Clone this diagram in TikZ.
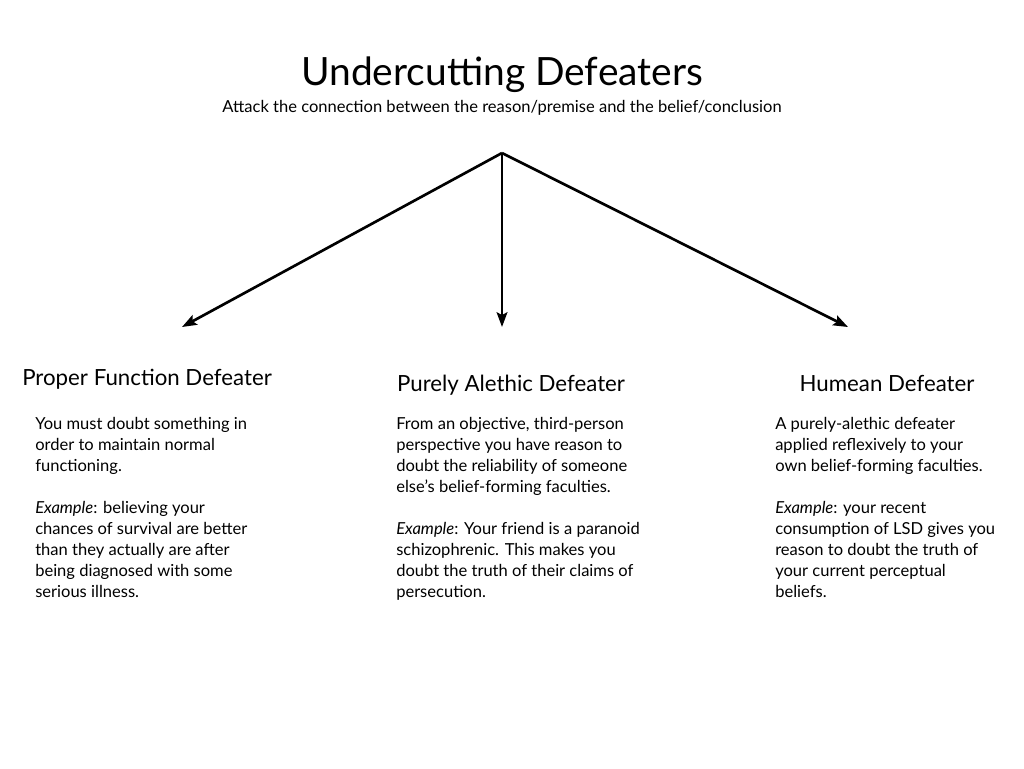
\documentclass[tikz,border=0pt]{standalone}
\usepackage{fontspec}
\setmainfont{Lato}
\usetikzlibrary{arrows.meta}
\begin{document}
\begin{tikzpicture}[x=0.75pt,y=-0.75pt,
  arr/.style={line width=2pt,-{Stealth[length=11pt,width=8pt,inset=2pt]}},
  head/.style={font=\fontsize{16.7}{19}\selectfont,inner sep=0},
  body/.style={font=\fontsize{12.4}{15.75}\selectfont,align=left,anchor=base west,inner sep=0}]
\useasboundingbox (0,0) rectangle (1024,768);
\node[font=\fontsize{29.2}{33}\selectfont,anchor=base] (t) at (502,85) {Undercutting Defeaters};
\node[font=\fontsize{12.4}{14}\selectfont,anchor=base] (s) at (502,112) {Attack the connection between the reason/premise and the belief/conclusion};
\coordinate (apex) at (502,153);
\coordinate (l) at (182,327);
\coordinate (m) at (502,327);
\coordinate (r) at (848,327);
\draw[arr] (apex) -- (l);
\draw[arr] (apex) -- (m);
\draw[arr] (apex) -- (r);
\node[head,anchor=base west] (h1) at (22,385) {Proper Function Defeater};
\node[head,anchor=base] (h2) at (511,391) {Purely Alethic Defeater};
\node[head,anchor=base] (h3) at (887,391) {Humean Defeater};
\node[body] (b1) at (35,597) {You must doubt something in\\order to maintain normal\\functioning.\\[15.75pt]
\textit{Example}: believing your\\chances of survival are better\\than they actually are after\\being diagnosed with some\\serious illness.};
\node[body] (b2) at (396,597) {From an objective, third-person\\perspective you have reason to\\doubt the reliability of someone\\else’s belief-forming faculties.\\[15.75pt]
\textit{Example}: Your friend is a paranoid\\schizophrenic. This makes you\\doubt the truth of their claims of\\persecution.};
\node[body] (b3) at (775,597) {A purely-alethic defeater\\applied reflexively to your\\own belief-forming faculties.\\[15.75pt]
\textit{Example}: your recent\\consumption of LSD gives you\\reason to doubt the truth of\\your current perceptual\\beliefs.};
\end{tikzpicture}
\end{document}
